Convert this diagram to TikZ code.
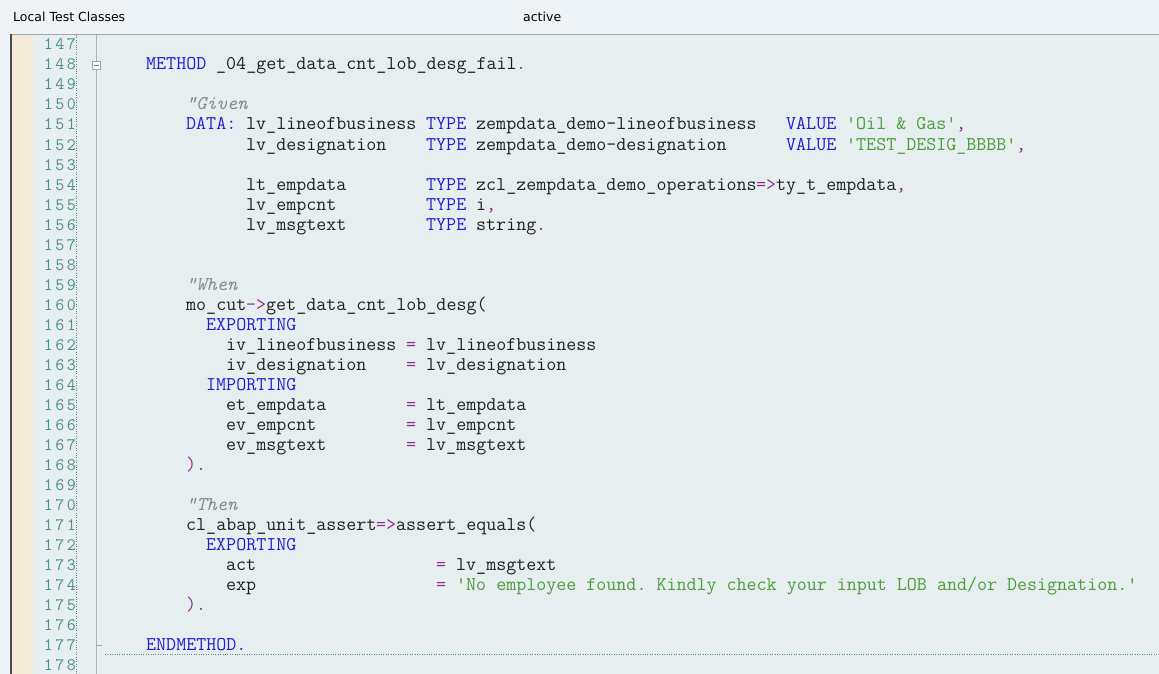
\documentclass[tikz,border=0pt]{standalone}
\usepackage{fontspec}
\setmainfont{DejaVu Sans}
\newfontfamily\codefont{Latin Modern Mono}
\newfontfamily\lnfont[LetterSpace=14]{Latin Modern Mono}
\newcommand\q{\textquotesingle}
\frenchspacing
\definecolor{kw}{HTML}{1F1FD6}
\definecolor{st}{HTML}{4A9E3A}
\definecolor{cm}{HTML}{8A8A8A}
\definecolor{op}{HTML}{8E2E8E}
\definecolor{tx}{HTML}{202020}
\definecolor{ln}{HTML}{4E8F8F}
\definecolor{codebg}{HTML}{E6EEF0}
\definecolor{topbg}{HTML}{EEF3F7}
\definecolor{beige}{HTML}{F2E9D6}
\tikzset{tok/.style={anchor=base west,inner sep=0pt,font=\codefont\fontsize{19.45}{20}\selectfont},
 lnum/.style={anchor=base east,inner sep=0pt,text=ln,font=\lnfont\fontsize{17.5}{20}\selectfont},
 toptext/.style={anchor=base west,inner sep=0pt,text=black,font=\fontsize{12.5}{14}\selectfont}}
\newcommand\tk[4]{\node[tok,text=#3] (l#1c#2) at ({146+10*#2},{-(50+20*(#1-147))}) {#4};}
\begin{document}
\begin{tikzpicture}[x=1pt,y=1pt]
\useasboundingbox (0,0) rectangle (1159,-674);
\fill[topbg] (0,0) rectangle (1159,-674);
\fill[codebg] (10,-34) rectangle (1159,-674);
\fill[beige] (12,-35) rectangle (33,-674);
\draw[gray!70,line width=1pt] (10,-34.5) -- (1159,-34.5);
\draw[black!70,line width=1.5pt] (11,-34) -- (11,-674);
\draw[ln,dotted] (76,-35) -- (76,-674);
\draw[gray!60] (96,-35) -- (96,-674);
\node[draw=gray!70,fill=white,minimum size=8pt,inner sep=0pt] (fold) at (96,-65) {};
\draw[gray] (93.5,-65) -- (98.5,-65);
\draw[gray!70] (96,-645) -- (102,-645);
\draw[ln,dotted] (105,-654) -- (1159,-654);
\node[toptext] (title) at (13,-22) {Local Test Classes};
\node[toptext] (status) at (523,-22) {active};
\foreach \n in {147,...,178} {\node[lnum] (n\n) at (76,{-(50+20*(\n-147))}) {\n};}
\tk{148}{0}{kw}{METHOD}\tk{148}{7}{tx}{\_04\_get\_data\_cnt\_lob\_desg\_fail}\tk{148}{37}{op}{.}
\tk{150}{4}{cm}{\itshape "Given}
\tk{151}{4}{kw}{DATA:}\tk{151}{10}{tx}{lv\_lineofbusiness}\tk{151}{28}{kw}{TYPE}\tk{151}{33}{tx}{zempdata\_demo-lineofbusiness}\tk{151}{64}{kw}{VALUE}\tk{151}{70}{st}{\q Oil \& Gas\q}\tk{151}{81}{op}{,}
\tk{152}{10}{tx}{lv\_designation}\tk{152}{28}{kw}{TYPE}\tk{152}{33}{tx}{zempdata\_demo-designation}\tk{152}{64}{kw}{VALUE}\tk{152}{70}{st}{\q TEST\_DESIG\_BBBB\q}\tk{152}{87}{op}{,}
\tk{154}{10}{tx}{lt\_empdata}\tk{154}{28}{kw}{TYPE}\tk{154}{33}{tx}{zcl\_zempdata\_demo\_operations}\tk{154}{61}{op}{=>}\tk{154}{63}{tx}{ty\_t\_empdata}\tk{154}{75}{op}{,}
\tk{155}{10}{tx}{lv\_empcnt}\tk{155}{28}{kw}{TYPE}\tk{155}{33}{tx}{i}\tk{155}{34}{op}{,}
\tk{156}{10}{tx}{lv\_msgtext}\tk{156}{28}{kw}{TYPE}\tk{156}{33}{tx}{string}\tk{156}{39}{op}{.}
\tk{159}{4}{cm}{\itshape "When}
\tk{160}{4}{tx}{mo\_cut}\tk{160}{10}{op}{->}\tk{160}{12}{tx}{get\_data\_cnt\_lob\_desg(}
\tk{161}{6}{kw}{EXPORTING}
\tk{162}{8}{tx}{iv\_lineofbusiness}\tk{162}{26}{op}{=}\tk{162}{28}{tx}{lv\_lineofbusiness}
\tk{163}{8}{tx}{iv\_designation}\tk{163}{26}{op}{=}\tk{163}{28}{tx}{lv\_designation}
\tk{164}{6}{kw}{IMPORTING}
\tk{165}{8}{tx}{et\_empdata}\tk{165}{26}{op}{=}\tk{165}{28}{tx}{lt\_empdata}
\tk{166}{8}{tx}{ev\_empcnt}\tk{166}{26}{op}{=}\tk{166}{28}{tx}{lv\_empcnt}
\tk{167}{8}{tx}{ev\_msgtext}\tk{167}{26}{op}{=}\tk{167}{28}{tx}{lv\_msgtext}
\tk{168}{4}{op}{).}
\tk{170}{4}{cm}{\itshape "Then}
\tk{171}{4}{tx}{cl\_abap\_unit\_assert}\tk{171}{23}{op}{=>}\tk{171}{25}{tx}{assert\_equals(}
\tk{172}{6}{kw}{EXPORTING}
\tk{173}{8}{tx}{act}\tk{173}{29}{op}{=}\tk{173}{31}{tx}{lv\_msgtext}
\tk{174}{8}{tx}{exp}\tk{174}{29}{op}{=}\tk{174}{31}{st}{\q No employee found. Kindly check your input LOB and/or Designation.\q}
\tk{175}{4}{op}{).}
\tk{177}{0}{kw}{ENDMETHOD.}
\end{tikzpicture}
\end{document}
